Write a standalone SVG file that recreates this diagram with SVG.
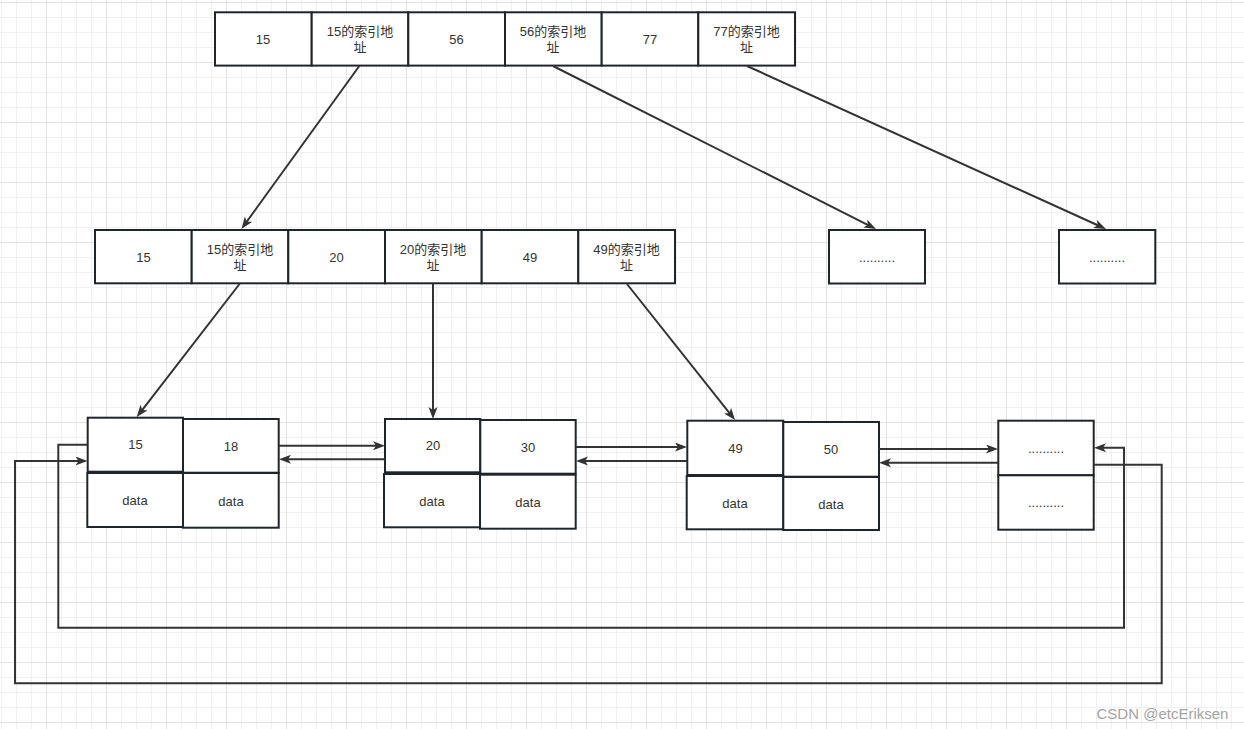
<svg xmlns="http://www.w3.org/2000/svg" width="1244" height="729" viewBox="0 0 1244 729">
<style>
.cell{fill:#ffffff;stroke:#1f252b;stroke-width:2}
.t{font-family:"Liberation Sans","Noto Sans CJK SC",sans-serif;font-size:13px;fill:#333333;text-anchor:middle;dominant-baseline:central}
.c{fill:none;stroke:#333333;stroke-width:2;marker-end:url(#arr)}
.wm{font-family:"Liberation Sans",sans-serif;font-size:15px;fill:#a3a3a3}
</style>
<defs>
<pattern id="grid" patternUnits="userSpaceOnUse" x="46" y="2" width="60" height="60">
<rect x="15" y="0" width="1" height="60" fill="#f0f0f0"/>
<rect x="30" y="0" width="1" height="60" fill="#f0f0f0"/>
<rect x="45" y="0" width="1" height="60" fill="#f0f0f0"/>
<rect x="0" y="15" width="60" height="1" fill="#f0f0f0"/>
<rect x="0" y="30" width="60" height="1" fill="#f0f0f0"/>
<rect x="0" y="45" width="60" height="1" fill="#f0f0f0"/>
<rect x="0" y="0" width="1" height="60" fill="#e2e2e2"/>
<rect x="0" y="0" width="60" height="1" fill="#e2e2e2"/>
</pattern>
<marker id="arr" markerUnits="userSpaceOnUse" markerWidth="13" markerHeight="10" refX="6" refY="4.5" orient="auto">
<path d="M0,0 L12,4.5 L0,9 L3,4.5 z" fill="#333333"/>
</marker>
</defs>
<rect x="0" y="0" width="1244" height="729" fill="#ffffff"/>
<rect x="0" y="0" width="1244" height="729" fill="url(#grid)"/>

<g id="root">
<rect class="cell" x="215" y="12.3" width="96.7" height="53.3"/>
<rect class="cell" x="311.7" y="12.3" width="96.6" height="53.3"/>
<rect class="cell" x="408.3" y="12.3" width="96.7" height="53.3"/>
<rect class="cell" x="505" y="12.3" width="96.7" height="53.3"/>
<rect class="cell" x="601.7" y="12.3" width="96.6" height="53.3"/>
<rect class="cell" x="698.3" y="12.3" width="96.7" height="53.3"/>
<text class="t" x="263" y="39">15</text>
<text class="t" x="360" y="31">15的索引地</text>
<text class="t" x="360" y="47.5">址</text>
<text class="t" x="456.5" y="39">56</text>
<text class="t" x="553" y="31">56的索引地</text>
<text class="t" x="553" y="47.5">址</text>
<text class="t" x="650" y="39">77</text>
<text class="t" x="746.5" y="31">77的索引地</text>
<text class="t" x="746.5" y="47.5">址</text>
</g>

<g id="mid">
<rect class="cell" x="95" y="230" width="96.7" height="53.3"/>
<rect class="cell" x="191.7" y="230" width="96.6" height="53.3"/>
<rect class="cell" x="288.3" y="230" width="96.7" height="53.3"/>
<rect class="cell" x="385" y="230" width="96.7" height="53.3"/>
<rect class="cell" x="481.7" y="230" width="96.6" height="53.3"/>
<rect class="cell" x="578.3" y="230" width="96.7" height="53.3"/>
<text class="t" x="143.5" y="257">15</text>
<text class="t" x="240" y="249">15的索引地</text>
<text class="t" x="240" y="265.5">址</text>
<text class="t" x="336.5" y="257">20</text>
<text class="t" x="433" y="249">20的索引地</text>
<text class="t" x="433" y="265.5">址</text>
<text class="t" x="530" y="257">49</text>
<text class="t" x="626.5" y="249">49的索引地</text>
<text class="t" x="626.5" y="265.5">址</text>
</g>

<g id="mid2">
<rect class="cell" x="829" y="230" width="96" height="53.5"/>
<text class="t" x="877" y="257">..........</text>
</g>
<g id="mid3">
<rect class="cell" x="1059" y="230" width="96.3" height="53.5"/>
<text class="t" x="1107" y="257">..........</text>
</g>

<g id="leaf1">
<rect class="cell" x="87.7" y="417.7" width="95.3" height="54"/>
<rect class="cell" x="183" y="419" width="95.7" height="53.7"/>
<rect class="cell" x="87.3" y="473" width="95.7" height="54"/>
<rect class="cell" x="183" y="473" width="95.7" height="54.7"/>
<text class="t" x="135.5" y="444.5">15</text>
<text class="t" x="231" y="446">18</text>
<text class="t" x="135" y="500">data</text>
<text class="t" x="231" y="501">data</text>
</g>

<g id="leaf2">
<rect class="cell" x="385" y="419" width="95.3" height="53.3"/>
<rect class="cell" x="480.3" y="420" width="95.4" height="53.7"/>
<rect class="cell" x="384" y="474" width="96" height="53.3"/>
<rect class="cell" x="480" y="474.7" width="95.7" height="54"/>
<text class="t" x="433" y="445.5">20</text>
<text class="t" x="528" y="447">30</text>
<text class="t" x="432" y="501">data</text>
<text class="t" x="528" y="502">data</text>
</g>

<g id="leaf3">
<rect class="cell" x="687.3" y="420.7" width="96" height="54.3"/>
<rect class="cell" x="783.3" y="422" width="95.7" height="54.7"/>
<rect class="cell" x="686.7" y="476" width="96.6" height="53.3"/>
<rect class="cell" x="783.3" y="477" width="95.7" height="53"/>
<text class="t" x="735.5" y="448">49</text>
<text class="t" x="831" y="449">50</text>
<text class="t" x="735" y="503">data</text>
<text class="t" x="831" y="504">data</text>
</g>

<g id="leaf4">
<rect class="cell" x="998.3" y="420.7" width="95.4" height="54.6"/>
<rect class="cell" x="998.3" y="475.3" width="95.4" height="54.4"/>
<text class="t" x="1046" y="448">..........</text>
<text class="t" x="1046" y="502.5">..........</text>
</g>

<g id="connectors">
<path class="c" d="M359.3 66 L245 224.1"/>
<path class="c" d="M553 66 L870.6 226.3"/>
<path class="c" d="M747 66 L1100.5 226.5"/>
<path class="c" d="M239.5 284 L140.4 412.3"/>
<path class="c" d="M433 284 L433 413"/>
<path class="c" d="M627 284 L731.3 415.3"/>
<path class="c" d="M279 445.7 H379"/>
<path class="c" d="M385 459.2 H285"/>
<path class="c" d="M576 447 H681"/>
<path class="c" d="M687 461 H582"/>
<path class="c" d="M879 449 H992"/>
<path class="c" d="M998 462.8 H885"/>
<path class="c" d="M87.5 444.7 H58.3 V627.7 H1124 V447.7 H1100"/>
<path class="c" d="M1094 464.7 H1161.7 V683.3 H15 V461 H81.5"/>
</g>

<text class="wm" x="1096.5" y="719">CSDN @etcEriksen</text>
</svg>
